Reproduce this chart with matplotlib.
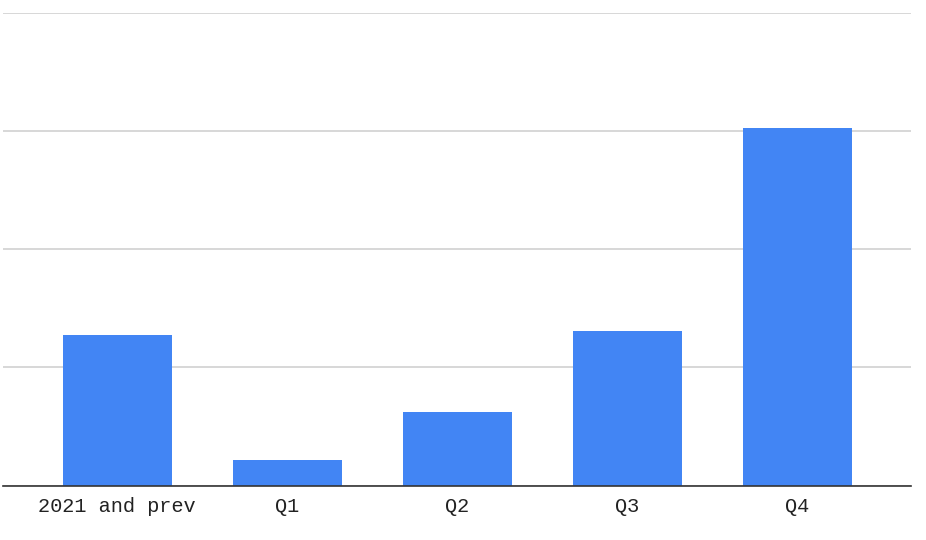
import numpy as np
import matplotlib
matplotlib.use('Agg')
import matplotlib.pyplot as plt

# values (one gridline = 10 units)
categories = ['2021 and prev', 'Q1', 'Q2', 'Q3', 'Q4']
values = [12.7, 2.2, 6.2, 13.1, 30.3]
grid_ticks = [0, 10, 20, 30, 40]

fig = plt.figure(figsize=(9.26, 5.4), dpi=100)
ax = fig.add_axes([3/926, 1 - 485.5/540, 908/926, 472.5/540])

x = np.arange(len(categories))
ax.bar(x, values, width=0.64, color='#4285f4', zorder=3)

ax.set_xlim(-0.672, 4.668)
ax.set_ylim(0, 40)
ax.set_yticks(grid_ticks)
ax.set_yticklabels([])
ax.tick_params(axis='y', length=0)
ax.grid(axis='y', color='#d4d4d4', linewidth=1.3, zorder=0)

ax.set_xticks(x)
ax.set_xticklabels(categories, fontfamily='Liberation Mono', fontsize=14.6, color='#222222')
ax.tick_params(axis='x', length=0, pad=8)

for s in ['top', 'right', 'left']:
    ax.spines[s].set_visible(False)
ax.spines['bottom'].set_color('#333333')
ax.spines['bottom'].set_linewidth(1.2)
ax.spines['bottom'].set_zorder(4)

fig.savefig('out.png', dpi=100)
